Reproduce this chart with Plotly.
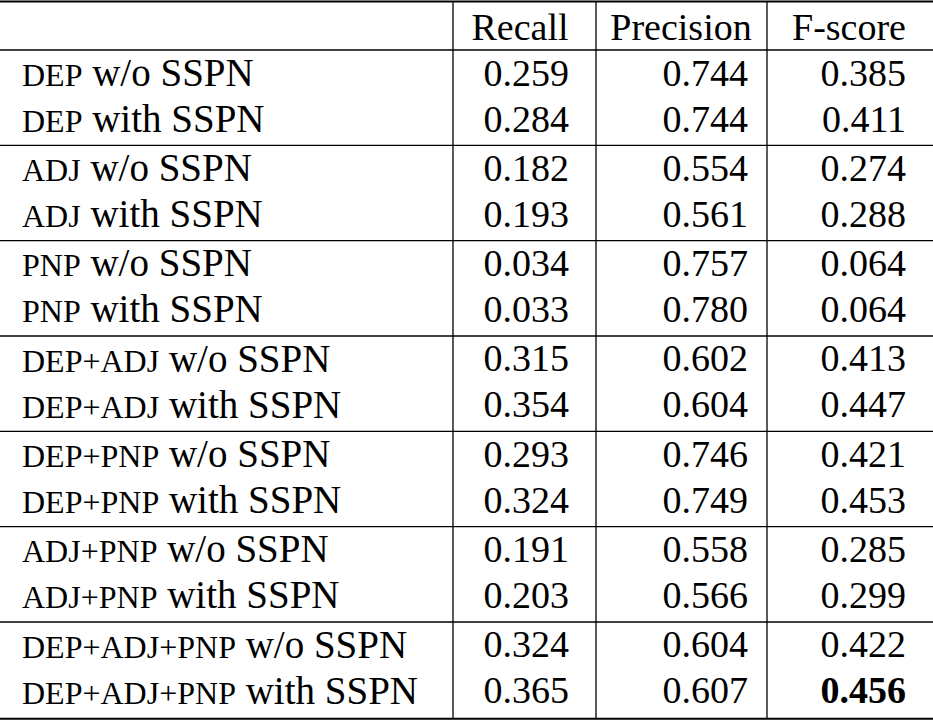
import plotly.graph_objects as go

# table content
methods = ['DEP', 'ADJ', 'PNP', 'DEP+ADJ', 'DEP+PNP', 'ADJ+PNP', 'DEP+ADJ+PNP']
variants = ['w/o SSPN', 'with SSPN']
headers = ['Recall', 'Precision', 'F-score']

recall = [0.259, 0.284, 0.182, 0.193, 0.034, 0.033, 0.315, 0.354,
          0.293, 0.324, 0.191, 0.203, 0.324, 0.365]
precision = [0.744, 0.744, 0.554, 0.561, 0.757, 0.780, 0.602, 0.604,
             0.746, 0.749, 0.558, 0.566, 0.604, 0.607]
fscore = [0.385, 0.411, 0.274, 0.288, 0.064, 0.064, 0.413, 0.447,
          0.421, 0.453, 0.285, 0.299, 0.422, 0.456]

# layout of the grid (pixel-like units)
W, H = 933, 722
FONT = 'Liberation Serif, Times New Roman, serif'
FS = 38      # numbers / header
FS_LAB = 39  # row label words
SC = 32      # small caps size
col_lines = [453, 596, 767]
num_right = [569, 748, 906]
head_center = [520, 681, 849]
head_y = 30
body_top = 50
group_h = 95.33
row_off = [26, 72]

rows_y = []
labels = []
for g, m in enumerate(methods):
    for r, v in enumerate(variants):
        rows_y.append(body_top + g * group_h + row_off[r])
        labels.append(f"<span style='font-size:{SC}px'>{m}</span> {v}")

best = max(fscore)

fig = go.Figure()

fig.add_trace(go.Scatter(
    x=[22] * len(labels), y=rows_y, text=labels, mode='text',
    textposition='middle right', textfont=dict(family=FONT, size=FS_LAB, color='black'),
    hoverinfo='skip'))

for i, col in enumerate([recall, precision, fscore]):
    txt = [(f'<b>{v:.3f}</b>' if (i == 2 and v == best) else f'{v:.3f}') for v in col]
    fig.add_trace(go.Scatter(
        x=[num_right[i]] * len(col), y=rows_y, text=txt, mode='text',
        textposition='middle left', textfont=dict(family=FONT, size=FS, color='black'),
        hoverinfo='skip'))

fig.add_trace(go.Scatter(
    x=head_center, y=[head_y] * 3, text=headers, mode='text',
    textposition='middle center', textfont=dict(family=FONT, size=FS, color='black'),
    hoverinfo='skip'))

# rules
shapes = [dict(type='line', x0=0, x1=W, y0=1.5, y1=1.5, line=dict(color='black', width=2))]
for g in range(len(methods)):
    y = body_top + g * group_h
    shapes.append(dict(type='line', x0=0, x1=W, y0=y, y1=y, line=dict(color='black', width=1.3)))
yb = body_top + len(methods) * group_h + 1.5
shapes.append(dict(type='line', x0=0, x1=W, y0=yb, y1=yb, line=dict(color='black', width=2)))
for x in col_lines:
    shapes.append(dict(type='line', x0=x, x1=x, y0=1.5, y1=yb, line=dict(color='black', width=1.3)))

fig.update_layout(
    width=W, height=H, margin=dict(l=0, r=0, t=0, b=0),
    paper_bgcolor='white', plot_bgcolor='white', showlegend=False,
    shapes=shapes,
    xaxis=dict(range=[0, W], visible=False, fixedrange=True),
    yaxis=dict(range=[H, 0], visible=False, fixedrange=True),
)

# drop the default page margin so the figure sits at the window corner
fig.write_html("out.html", config={'displayModeBar': False},
               post_script="document.body.style.margin='0';document.body.style.overflow='hidden';")
